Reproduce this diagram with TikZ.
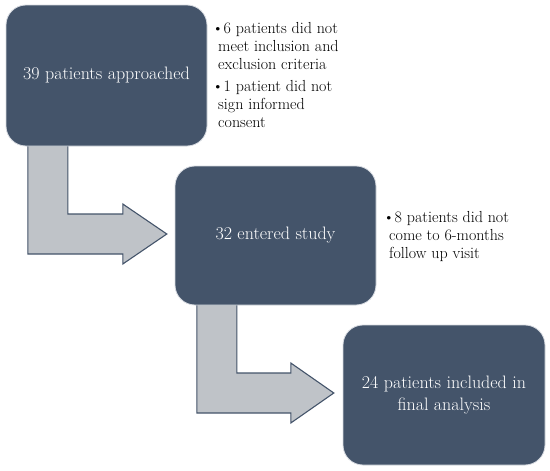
\documentclass[tikz,border=0pt]{standalone}
\usetikzlibrary{calc}
\definecolor{boxfill}{HTML}{44546A}
\definecolor{arrowfill}{HTML}{BFC3C8}
\definecolor{boxline}{HTML}{D6DAE0}
\tikzset{
  stagebox/.style={draw=boxline, line width=0.8pt, fill=boxfill, rounded corners=20pt,
    text=white, align=center, font=\fontsize{18}{22}\selectfont, inner sep=0pt},
  bigarrow/.style={draw=boxfill, line width=1.1pt, fill=arrowfill, line join=miter},
  notetext/.style={anchor=north west, align=left, inner sep=0pt, font=\fontsize{16}{18}\selectfont}
}
\begin{document}
\begin{tikzpicture}[x=1pt,y=-1pt]
\useasboundingbox (0,0) rectangle (550,471);
\path (106.5,75.5) node[minimum width=201pt, minimum height=141pt, inner sep=0pt] (b1) {};
\path (275.5,235.5) node[minimum width=201pt, minimum height=139pt, inner sep=0pt] (b2) {};
\path (444,395) node[minimum width=202pt, minimum height=140pt, inner sep=0pt] (b3) {};
\coordinate (a1s) at ($(b1.south west)+(22,-4)$);
\coordinate (a1t) at ($(b2.west)+(-8,-1.5)$);
\coordinate (a2s) at ($(b2.south west)+(22,-4)$);
\coordinate (a2t) at ($(b3.west)+(-9,-2)$);
\draw[bigarrow] let \p1=(a1s), \p2=(a1t) in
  (\x1,\y1) -- (\x1+40pt,\y1) -- (\x1+40pt,\y2+20pt) -- (\x2-44pt,\y2+20pt) -- (\x2-44pt,\y2+30pt)
  -- (\x2,\y2) -- (\x2-44pt,\y2-30pt) -- (\x2-44pt,\y2-20pt) -- (\x1,\y2-20pt) -- cycle;
\draw[bigarrow] let \p1=(a2s), \p2=(a2t) in
  (\x1,\y1) -- (\x1+40pt,\y1) -- (\x1+40pt,\y2+20pt) -- (\x2-43pt,\y2+20pt) -- (\x2-43pt,\y2+30pt)
  -- (\x2,\y2) -- (\x2-43pt,\y2-30pt) -- (\x2-43pt,\y2-20pt) -- (\x1,\y2-20pt) -- cycle;
\node[stagebox, minimum width=201pt, minimum height=141pt] at (b1) {39 patients approached};
\node[stagebox, minimum width=201pt, minimum height=139pt] at (b2) {32 entered study};
\node[stagebox, minimum width=202pt, minimum height=140pt] at (b3) {24 patients included in\\final analysis};
\node[notetext] (n1) at (212,22) {\textbullet6 patients did not\\\hspace*{6pt}meet inclusion and\\\hspace*{6pt}exclusion criteria\\[4pt]\textbullet1 patient did not\\\hspace*{6pt}sign informed\\\hspace*{6pt}consent};
\node[notetext] (n2) at (383,211) {\textbullet8 patients did not\\\hspace*{6pt}come to 6-months\\\hspace*{6pt}follow up visit};
\end{tikzpicture}
\end{document}
